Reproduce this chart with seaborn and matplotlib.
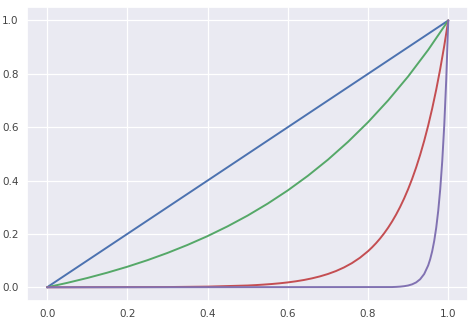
import matplotlib
matplotlib.use("Agg")
import matplotlib.pyplot as plt
import seaborn as sns
import pandas as pd

# Values
blue_x = [0.0, 1.0]
blue_y = [0.0, 1.0]

green_x = [0.0, 0.05, 0.1, 0.15, 0.2, 0.25, 0.3, 0.35, 0.4, 0.45, 0.5, 0.55, 0.6, 0.65,
           0.7, 0.75, 0.8, 0.85, 0.9, 0.95, 1.0]
green_y = [0.0, 0.0165, 0.0347, 0.0548, 0.0770, 0.1015, 0.1287, 0.1587, 0.1918, 0.2285,
           0.2689, 0.3137, 0.3631, 0.4178, 0.4782, 0.5450, 0.6187, 0.7003, 0.7903, 0.8899, 1.0]

red_x = [0.0, 0.3, 0.4, 0.5, 0.52, 0.54, 0.56, 0.58, 0.60, 0.62, 0.64, 0.66, 0.68, 0.70,
         0.72, 0.74, 0.76, 0.78, 0.80, 0.81, 0.82, 0.83, 0.84, 0.85, 0.86, 0.87, 0.88, 0.89,
         0.90, 0.91, 0.92, 0.93, 0.94, 0.95, 0.96, 0.97, 0.98, 0.99, 1.0]
red_y = [0.0, 0.0009, 0.0025, 0.0067, 0.0082, 0.0101, 0.0123, 0.0150, 0.0183, 0.0224, 0.0273,
         0.0334, 0.0408, 0.0498, 0.0608, 0.0743, 0.0907, 0.1108, 0.1353, 0.1496, 0.1653,
         0.1827, 0.2019, 0.2231, 0.2466, 0.2725, 0.3012, 0.3329, 0.3679, 0.4066, 0.4493,
         0.4966, 0.5488, 0.6065, 0.6703, 0.7408, 0.8187, 0.9048, 1.0]

purple_x = [0.0, 0.86, 0.87, 0.88, 0.89, 0.90, 0.91, 0.92, 0.93, 0.94, 0.95, 0.955, 0.96,
            0.965, 0.97, 0.975, 0.98, 0.985, 0.99, 0.995, 1.0]
purple_y = [0.0, 0.0009, 0.0015, 0.0025, 0.0041, 0.0067, 0.0111, 0.0183, 0.0302, 0.0498,
            0.0821, 0.1054, 0.1353, 0.1738, 0.2231, 0.2865, 0.3679, 0.4724, 0.6065, 0.7788, 1.0]

series = ["blue", "green", "red", "purple"]
colors = ["#4C72B0", "#55A868", "#C44E52", "#8172B2"]

sns.set_theme(style="darkgrid", rc={"axes.facecolor": "#EAEAF2"})
plt.rcParams["font.family"] = ["DejaVu Sans"]

frames = []
for name, xs, ys in [("blue", blue_x, blue_y), ("green", green_x, green_y),
                     ("red", red_x, red_y), ("purple", purple_x, purple_y)]:
    frames.append(pd.DataFrame({"x": xs, "y": ys, "s": name}))
df = pd.concat(frames, ignore_index=True)

fig, ax = plt.subplots(figsize=(4.74, 3.25), dpi=100)
fig.subplots_adjust(left=0.057, right=0.988, top=0.978, bottom=0.075)
sns.lineplot(data=df, x="x", y="y", hue="s", hue_order=series, palette=colors,
             ax=ax, legend=False, linewidth=1.4, sort=True, estimator=None)
ax.set_xlim(-0.05, 1.05)
ax.set_ylim(-0.05, 1.05)
ax.set_xticks([0.0, 0.2, 0.4, 0.6, 0.8, 1.0])
ax.set_yticks([0.0, 0.2, 0.4, 0.6, 0.8, 1.0])
ax.set_xticklabels(["0.0", "0.2", "0.4", "0.6", "0.8", "1.0"])
ax.set_yticklabels(["0.0", "0.2", "0.4", "0.6", "0.8", "1.0"])
ax.set_xlabel("")
ax.set_ylabel("")
ax.grid(linewidth=0.9)
ax.tick_params(labelsize=7.5, colors="#444444", length=0, pad=6)
fig.savefig("out.png", dpi=100)
